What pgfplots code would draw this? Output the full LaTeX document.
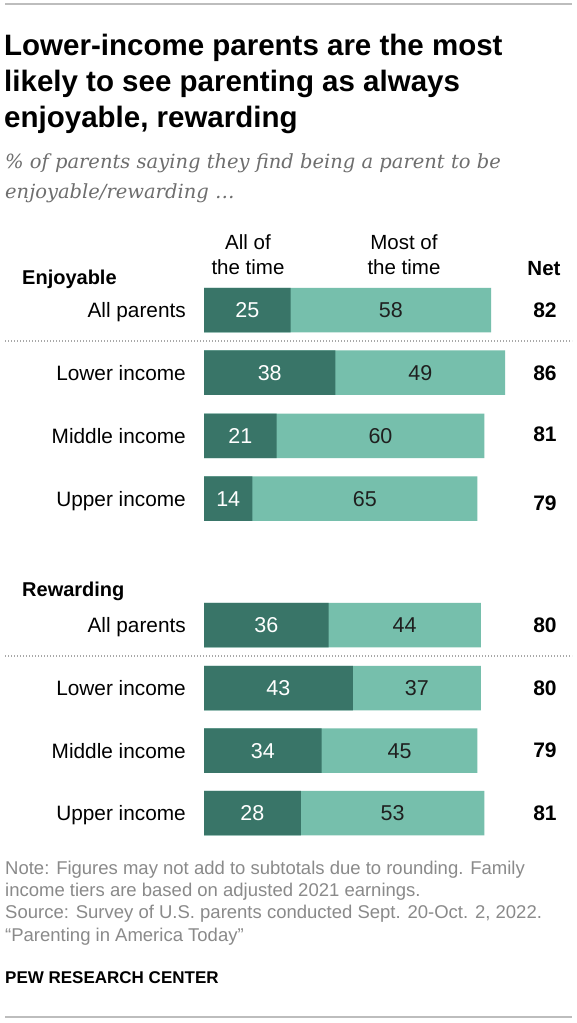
\documentclass[border=0pt]{standalone}
\usepackage{pgfplots}
\pgfplotsset{compat=1.18}
\usepackage{pgfplotstable}
\usepackage{fontspec}
\setmainfont{Liberation Sans}
\newfontfamily\subfont{DejaVu Serif}
\definecolor{dark}{HTML}{397568}
\definecolor{light}{HTML}{76BFAC}
\definecolor{rulec}{HTML}{BDBDBD}
\definecolor{notec}{HTML}{8A8A8A}
\definecolor{subc}{HTML}{6E6E6E}
\definecolor{dotc}{HTML}{A8A8A8}

\pgfplotstableread{
y a b net ny label
310 25 58 82 310 {All parents}
372.5 38 49 86 373 {Lower income}
435.8 21 60 81 434 {Middle income}
498.5 14 65 79 503 {Upper income}
625 36 44 80 625 {All parents}
688 43 37 80 688 {Lower income}
750.5 34 45 79 750 {Middle income}
813 28 53 81 813 {Upper income}
}\data

\begin{document}
\begin{tikzpicture}
\begin{scope}[x=1pt,y=-1pt]
\fill[white] (0,0) rectangle (577,1023);
\end{scope}
\begin{axis}[at={(0pt,0pt)}, anchor=north west, scale only axis,
  width=577pt, height=1023pt,
  xmin=-58.96, xmax=107.80, ymin=0, ymax=1023, y dir=reverse,
  hide axis, clip=false]
\addplot[xbar, bar width=44.5pt, fill=light, draw=none] table[x expr=\thisrow{a}+\thisrow{b}, y=y] {\data};
\addplot[xbar, bar width=44.5pt, fill=dark, draw=none] table[x=a, y=y] {\data};
% numbers in dark segments
\addplot[draw=none, mark=none, nodes near coords, point meta=explicit symbolic,
  nodes near coords style={anchor=base, text=white, font=\fontsize{21.5}{24}\selectfont, inner sep=0pt}]
  table[x expr=\thisrow{a}/2, y expr=\thisrow{y}+7.7, meta=a] {\data};
% numbers in light segments
\addplot[draw=none, mark=none, nodes near coords, point meta=explicit symbolic,
  nodes near coords style={anchor=base, text=black!88, font=\fontsize{21.5}{24}\selectfont, inner sep=0pt}]
  table[x expr=\thisrow{a}+\thisrow{b}/2, y expr=\thisrow{y}+7.7, meta=b] {\data};
% net
\addplot[draw=none, mark=none, nodes near coords, point meta=explicit symbolic,
  nodes near coords style={anchor=base, text=black, font=\bfseries\fontsize{21}{24}\selectfont, inner sep=0pt}]
  table[x expr=98.55, y expr=\thisrow{ny}+7.5, meta=net] {\data};
% row labels
\addplot[draw=none, mark=none, nodes near coords, point meta=explicit symbolic,
  nodes near coords style={anchor=base east, text=black, font=\fontsize{20.8}{24}\selectfont, inner sep=0pt}]
  table[x expr=-5.2, y expr=\thisrow{y}+7.5, meta=label] {\data};
\end{axis}
\begin{scope}[x=1pt,y=-1pt]
\draw[rulec, line width=2pt] (5,4) -- (572,4);
\draw[rulec, line width=2pt] (5,1017) -- (572,1017);
\draw[dotc, line width=1.3pt, dash pattern=on 1.3pt off 1.7pt] (5,341) -- (572,341);
\draw[dotc, line width=1.3pt, dash pattern=on 1.3pt off 1.7pt] (5,656) -- (572,656);
\begin{scope}[every node/.style={inner sep=0pt}]
\node[anchor=base west, font=\bfseries\fontsize{29.5}{36}\selectfont] at (4,55) {Lower-income parents are the most};
\node[anchor=base west, font=\bfseries\fontsize{29.5}{36}\selectfont] at (4,91) {likely to see parenting as always};
\node[anchor=base west, font=\bfseries\fontsize{29.5}{36}\selectfont] at (4,127) {enjoyable, rewarding};
\node[anchor=base west, text=subc, font=\subfont\itshape\fontsize{19.5}{24}\selectfont] at (5,168) {\% of parents saying they find being a parent to be};
\node[anchor=base west, text=subc, font=\subfont\itshape\fontsize{19.5}{24}\selectfont] at (5,198) {enjoyable/rewarding \dots};
\node[anchor=base, font=\fontsize{20.5}{24}\selectfont] at (248,249) {All of};
\node[anchor=base, font=\fontsize{20.5}{24}\selectfont] at (248,274) {the time};
\node[anchor=base, font=\fontsize{20.5}{24}\selectfont] at (404,249) {Most of};
\node[anchor=base, font=\fontsize{20.5}{24}\selectfont] at (404,274) {the time};
\node[anchor=base, font=\bfseries\fontsize{20.5}{24}\selectfont] at (544,275) {Net};
\node[anchor=base west, font=\bfseries\fontsize{20}{24}\selectfont] at (22,284) {Enjoyable};
\node[anchor=base west, font=\bfseries\fontsize{20}{24}\selectfont] at (22,596) {Rewarding};
\node[anchor=base west, text=notec, font=\fontsize{18.5}{22}\selectfont] at (5,874) {Note: Figures may not add to subtotals due to rounding. Family};
\node[anchor=base west, text=notec, font=\fontsize{18.5}{22}\selectfont] at (5,896) {income tiers are based on adjusted 2021 earnings.};
\node[anchor=base west, text=notec, font=\fontsize{18.5}{22}\selectfont] at (5,918) {Source: Survey of U.S. parents conducted Sept. 20-Oct. 2, 2022.};
\node[anchor=base west, text=notec, font=\fontsize{18.5}{22}\selectfont] at (5,941) {``Parenting in America Today''};
\node[anchor=base west, font=\bfseries\fontsize{17}{22}\selectfont] at (5,983) {PEW RESEARCH CENTER};
\end{scope}
\end{scope}
\end{tikzpicture}
\end{document}
